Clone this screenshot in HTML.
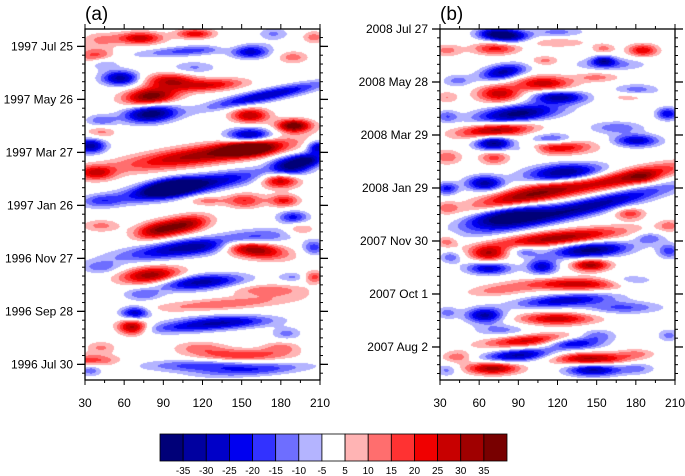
<!DOCTYPE html>
<html><head><meta charset="utf-8">
<style>
body{margin:0;background:#fff;width:685px;height:476px;overflow:hidden;position:relative;font-family:"Liberation Sans",sans-serif}
canvas{position:absolute}
svg{position:absolute;left:0;top:0}
</style></head>
<body>
<canvas id="ca" width="235" height="351" style="left:85px;top:29px"></canvas>
<canvas id="cb" width="235" height="351" style="left:440px;top:29px"></canvas>
<svg id="ov" width="685" height="476"></svg>
<script>
// Levels and colours
const levels=[-35,-30,-25,-20,-15,-10,-5,5,10,15,20,25,30,35];
const colors=["#000078","#0000a0","#0000c8","#0000f0","#3232ff","#6e6eff","#b4b4ff","#ffffff","#ffb4b4","#ff6e6e","#ff3232","#f00000","#c80000","#a00000","#780000"];
const xTicks=[30,60,90,120,150,180,210];
const aLabels=["1997 Jul 25","1997 May 26","1997 Mar 27","1997 Jan 26","1996 Nov 27","1996 Sep 28","1996 Jul 30"];
const aLabelDays=[20,81,142,203,264,325,386];
const bLabels=["2008 Jul 27","2008 May 28","2008 Mar 29","2008 Jan 29","2007 Nov 30","2007 Oct 1","2007 Aug 2"];
const bLabelDays=[0,61,122,183,244,305,366];
// Panel a anomaly features: longitude, day (from top), amplitude, lon spread, day spread, tilt (days per deg)
const aLon=[72,114,114,156,57,95,126,80,80,168,156,156,34,122,156,187,38,110,95,179,152,108,85,118,156,80,118,135,68,66,118,149,118,34,38,200,190,42,140,170,
  42,44,174,189,205,141,42,42,113,189,208,42,123,182,189,195,205,42,205,189,74,184,118,160,42,180,34];
const aDay=[10,5,24,26,56,59,64,77,97,76,99,122,134,144,137,157,165,180,182,174,197,224,231,249,252,283,291,316,326,343,341,375,387,381,30,150,110,197,335,300,
  12,39,5,32,9,21,105,118,44,112,136,226,197,197,216,230,251,274,285,285,305,350,366,392,366,366,392];
const aAmp=[28,24,-18,-28,-33,28,24,39,-40,-30,30,-34,-33,33,38,-34,24,-33,-38,29,20,30,32,-36,39,34,-33,14,-30,35,-24,20,-18,18,18,-30,24,-12,-14,14,
  11,-12,-11,13,13,12,-14,12,-11,18,-30,12,12,22,-22,15,-18,-12,18,-11,-14,-12,12,-16,11,12,-14];
const aSl=[12,10,30,10,10,14,18,14,14,30,10,12,8,45,14,10,10,40,14,10,10,12,12,40,18,16,22,40,8,8,30,25,30,15,10,8,10,10,25,20,
  10,8,8,8,6,12,8,8,12,8,6,10,10,8,8,8,6,10,6,8,10,8,14,30,8,10,6];
const aSd=[5,4,4,5,6,6,5,7,7,5,6,6,6,8,6,7,6,7,7,6,6,7,7,7,7,7,6,5,5,6,5,5,5,5,6,5,5,5,5,5,
  6,5,5,5,5,4,5,5,5,5,6,5,4,5,5,5,6,5,5,4,5,5,5,5,5,5,5];
const aTilt=[0,0,-0.1,0,0,0,-0.1,-0.1,-0.1,-0.3,0,0,0,-0.2,-0.1,0,0,-0.25,-0.2,0,0,-0.2,-0.2,-0.2,0.2,-0.1,-0.1,-0.1,0,0,-0.1,0,0,0,0,0,0,0,0,0,
  0,0,0,0,0,0,0,0,0,0,0,0,0,0,0,0,0,0,0,0,0,0,0,-0.1,0,0,0];
// Panel b features
const bLon=[72,85,72,78,75,109,121,89,72,71,120,115,180,125,64,100,175,80,140,120,145,67,145,67,108,135,125,64,119,100,90,131,145,70,147,43,180,204,185,170,
  35,120,120,155,160,155,110,150,175,165,35,35,35,71,97,35,185,175,205,190,35,35,38,205,94,175,75,35,205,150,76,43,35,180,180];
const bDay=[5,8,22,49,74,62,78,97,116,131,135,127,128,165,177,190,170,215,205,240,254,258,271,275,273,293,312,329,333,358,375,361,379,390,392,59,70,97,24,320,
  24,3,15,36,40,22,36,55,77,113,78,100,147,147,138,183,170,212,226,240,205,244,262,255,255,290,300,326,352,352,346,377,392,390,373];
const bAmp=[-32,-26,22,-32,28,28,-33,-38,34,-38,28,-22,-28,-37,-32,36,28,-40,-34,33,-38,28,33,-27,-27,28,-28,-32,28,28,-32,-28,32,33,-32,-12,-14,-25,25,-16,
  12,-12,10,-25,-14,12,12,12,10,-14,10,-14,14,18,-12,-22,12,18,12,-14,12,14,-14,-18,-14,-14,12,-12,-12,-15,-12,14,-12,-12,10];
const bSl=[10,10,12,12,12,15,14,22,20,10,18,12,12,20,10,30,30,22,45,35,20,10,10,12,8,28,25,10,20,25,18,15,20,14,14,8,12,6,8,20,
  8,14,16,6,18,6,8,12,12,14,6,6,8,8,8,6,8,8,6,8,6,6,6,6,8,14,18,6,6,10,14,8,6,10,10];
const bSd=[5,5,5,6,7,6,5,7,6,6,6,5,5,7,6,8,7,8,7,6,6,6,5,5,6,5,5,6,5,5,5,5,5,5,5,5,5,5,5,5,
  5,4,4,4,5,4,4,4,4,5,5,5,6,6,5,5,5,5,5,5,5,5,5,6,5,5,5,5,5,5,5,5,5,5,4];
const bTilt=[0,0,0,-0.2,0,0,0,-0.15,-0.1,0,0,0,0,-0.1,0,-0.3,-0.3,-0.25,-0.35,-0.15,-0.1,0,0,0,0,0,-0.1,0,0,-0.1,-0.1,0,0,0,0,0,0,0,0,0,
  0,0,0,0,0,0,0,0,0,0,0,0,0,0,0,0,0,0,0,0,0,0,0,0,0,0,-0.1,0,0,0,0,0,0,0,0];

const W=235,H=351,LON0=30,LON1=210,DAYS=404;
const xs=(lon,x0)=>x0+(lon-LON0)/(LON1-LON0)*W;
const ys=d=>29+d/DAYS*H;
function colIdx(v){let i=0;while(i<levels.length&&v>=levels[i])i++;return i;}
function hex(c){return [parseInt(c.substr(1,2),16),parseInt(c.substr(3,2),16),parseInt(c.substr(5,2),16)];}
const rgb=colors.map(hex);
function draw(id,lon,day,amp,sl,sd,tilt){
  const cv=document.getElementById(id),ctx=cv.getContext('2d');
  const img=ctx.createImageData(W,H);
  for(let py=0;py<H;py++){const d=py/H*DAYS;
    for(let px=0;px<W;px++){const l=LON0+px/W*(LON1-LON0);let v=0;
      for(let k=0;k<lon.length;k++){const dl=l-lon[k];const dd=d-day[k]-tilt[k]*dl;
        const e=dl*dl/(2*sl[k]*sl[k])+dd*dd/(2*sd[k]*sd[k]);if(e<9)v+=amp[k]*Math.exp(-e);}
      const c=rgb[colIdx(v)];const o=(py*W+px)*4;img.data[o]=c[0];img.data[o+1]=c[1];img.data[o+2]=c[2];img.data[o+3]=255;}}
  ctx.putImageData(img,0,0);
}
draw('ca',aLon,aDay,aAmp,aSl,aSd,aTilt);
draw('cb',bLon,bDay,bAmp,bSl,bSd,bTilt);

const svg=document.getElementById('ov');const NS='http://www.w3.org/2000/svg';
function el(tag,at,txt){const e=document.createElementNS(NS,tag);for(const k in at)e.setAttribute(k,at[k]);if(txt!==undefined)e.textContent=txt;svg.appendChild(e);return e;}
function axes(x0,labels,labelDays,letter,p){
  let f=el('rect',{x:x0,y:29,width:W,height:H,fill:'none',stroke:'#000','stroke-width':1.3});
  
  
  for(let lon=LON0;lon<=LON1;lon+=15){const x=xs(lon,x0);const L=(lon%30==0)?5:3;
    el('line',{x1:x,y1:29,x2:x,y2:29-L,stroke:'#000'});el('line',{x1:x,y1:380,x2:x,y2:380+L,stroke:'#000'});}
  xTicks.forEach(v=>{const t=el('text',{x:xs(v,x0),y:407,'font-size':12,'text-anchor':'middle'},String(v));
    
    });
  const step=(labelDays[1]-labelDays[0])/6;
  for(let d=labelDays[0]%step;d<=DAYS;d+=step){const y=ys(d);
    el('line',{x1:x0,y1:y,x2:x0-3,y2:y,stroke:'#000'});el('line',{x1:x0+W,y1:y,x2:x0+W+3,y2:y,stroke:'#000'});}
  labels.forEach((s,i)=>{const y=ys(labelDays[i]);
    el('line',{x1:x0,y1:y,x2:x0-8,y2:y,stroke:'#000','stroke-width':1.3});el('line',{x1:x0+W,y1:y,x2:x0+W+8,y2:y,stroke:'#000','stroke-width':1.3});
    const t=el('text',{x:x0-12,y:y+4,'font-size':12,'text-anchor':'end'},s);
    
    });
  const t=el('text',{x:x0,y:20,'font-size':19},letter);
  
  
}
axes(85,aLabels,aLabelDays,'(a)','a');
axes(440,bLabels,bLabelDays,'(b)','b');
// colorbar
const cbX=160,cbW=347,cbY=434,cbH=27,bw=cbW/colors.length;
colors.forEach((c,i)=>{const r=el('rect',{x:cbX+i*bw,y:cbY,width:bw,height:cbH,fill:c,stroke:'#000','stroke-width':0.8});
  
  });
levels.forEach((v,i)=>{const t=el('text',{x:cbX+(i+1)*bw,y:474,'font-size':10,'text-anchor':'middle'},String(v));
  
  });
</script>
</body></html>
